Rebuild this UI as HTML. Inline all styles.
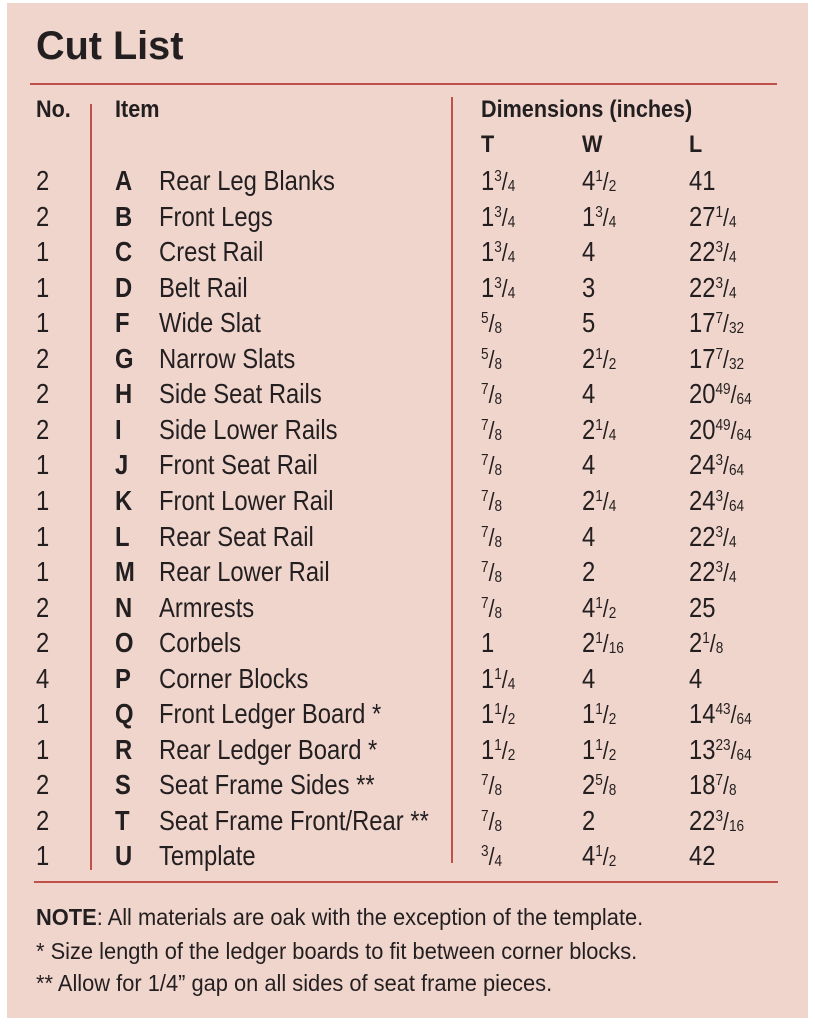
<!DOCTYPE html>
<html><head><meta charset="utf-8"><style>
body{margin:0;width:815px;height:1024px;background:#fff;position:relative;overflow:hidden;font-family:"Liberation Sans",sans-serif;color:#231f20}
#p{position:absolute;left:7px;top:3px;width:801px;height:1015px;background:#f0d5cd}
.t{position:absolute;white-space:nowrap;line-height:30px;font-size:28px;transform-origin:0 50%;transform:scaleX(0.85)}
.b{font-weight:bold}
.f{font-size:16px;position:relative;top:-9px}
.d{font-size:16px;position:relative;top:1px}
.s{font-size:25px}
.r{position:absolute;background:#c0504a}
.h{font-size:24px;transform:scaleX(0.9)}
.n{font-size:23px;transform:scaleX(0.95)}
</style></head><body>
<div id="p"></div>
<div class="t b" style="left:36px;top:26px;font-size:40px;line-height:40px;transform:scaleX(0.99)">Cut List</div>
<div class="r" style="left:30px;top:83px;width:747px;height:2px"></div>
<div class="r" style="left:90px;top:104px;width:1.5px;height:766px"></div>
<div class="r" style="left:451px;top:97px;width:1.5px;height:766px"></div>
<div class="r" style="left:34px;top:881px;width:744px;height:2px"></div>
<div class="t b h" style="left:36px;top:95px">No.</div>
<div class="t b h" style="left:115px;top:95px">Item</div>
<div class="t b h" style="left:481px;top:95px">Dimensions (inches)</div>
<div class="t b h" style="left:481px;top:130px">T</div>
<div class="t b h" style="left:582px;top:130px">W</div>
<div class="t b h" style="left:689px;top:130px">L</div>
<div id="rows"></div>
<div class="t n" style="left:36px;top:902px"><b>NOTE</b>: All materials are oak with the exception of the template.</div>
<div class="t n" style="left:36px;top:936px">* Size length of the ledger boards to fit between corner blocks.</div>
<div class="t n" style="left:36px;top:968px">** Allow for 1/4” gap on all sides of seat frame pieces.</div>
<script>
const R=[["2","A","Rear Leg Blanks","1 3/4","4 1/2","41"],["2","B","Front Legs","1 3/4","1 3/4","27 1/4"],["1","C","Crest Rail","1 3/4","4","22 3/4"],["1","D","Belt Rail","1 3/4","3","22 3/4"],["1","F","Wide Slat","5/8","5","17 7/32"],["2","G","Narrow Slats","5/8","2 1/2","17 7/32"],["2","H","Side Seat Rails","7/8","4","20 49/64"],["2","I","Side Lower Rails","7/8","2 1/4","20 49/64"],["1","J","Front Seat Rail","7/8","4","24 3/64"],["1","K","Front Lower Rail","7/8","2 1/4","24 3/64"],["1","L","Rear Seat Rail","7/8","4","22 3/4"],["1","M","Rear Lower Rail","7/8","2","22 3/4"],["2","N","Armrests","7/8","4 1/2","25"],["2","O","Corbels","1","2 1/16","2 1/8"],["4","P","Corner Blocks","1 1/4","4","4"],["1","Q","Front Ledger Board *","1 1/2","1 1/2","14 43/64"],["1","R","Rear Ledger Board *","1 1/2","1 1/2","13 23/64"],["2","S","Seat Frame Sides **","7/8","2 5/8","18 7/8"],["2","T","Seat Frame Front/Rear **","7/8","2","22 3/16"],["1","U","Template","3/4","4 1/2","42"]];
function fr(v){let p=v.split(" "),o="";for(const x of p){if(x.includes("/")){let [a,b]=x.split("/");o+='<span class="f">'+a+'</span><span class="s">/</span><span class="d">'+b+'</span>';}else o+=x;}return o;}
let h="";R.forEach((r,i)=>{const y=166+i*35.55;
h+=`<div class="t" style="left:36px;top:${y}px">${r[0]}</div><div class="t b" style="left:115px;top:${y}px">${r[1]}</div><div class="t" style="left:159px;top:${y}px">${r[2]}</div><div class="t" style="left:481px;top:${y}px">${fr(r[3])}</div><div class="t" style="left:582px;top:${y}px">${fr(r[4])}</div><div class="t" style="left:689px;top:${y}px">${fr(r[5])}</div>`;});
document.getElementById("rows").innerHTML=h;
</script>
</body></html>
